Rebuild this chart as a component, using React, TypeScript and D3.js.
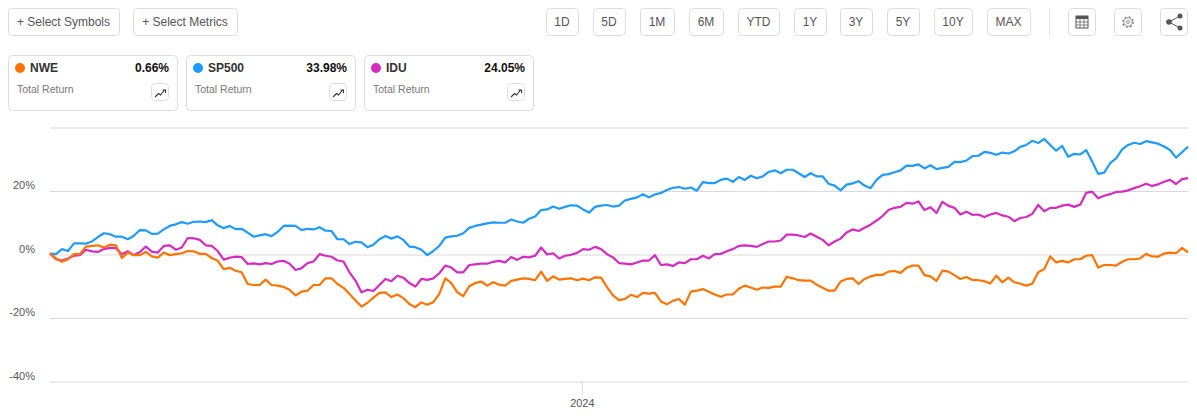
import React, { useEffect, useRef } from "react";
import * as d3 from "d3";

const WIDTH = 1197;
const HEIGHT = 416;
const FONT = "'Liberation Sans', Arial, sans-serif";

// total return in %, one reading per sample
const sp500 = [
  0.3, 0.1, 1.7, 1.1, 3.5, 3.5, 3.4, 4.1, 5.5, 6.7, 6.4, 5.6, 5.6, 4.8, 5.9, 7.7, 7.6, 6.5, 6.6, 7.9,
  9, 9.5, 10.2, 9.7, 10.3, 10.4, 10.2, 10.8, 9.2, 8.3, 9, 8, 8.1, 6.9, 5.6, 6, 6.4, 5.8, 7.1, 9,
  9.1, 9, 7.7, 8.1, 7.9, 8.6, 7.5, 7.4, 4.8, 4.8, 3.3, 4, 3.8, 2.3, 3.1, 4.8, 5.8, 5, 5.7,
  4.6, 2.5, 2.3, 1.5, -0.2, 1.1, 2.7, 5.3, 5.7, 5.9, 6.7, 8.4, 9, 9.4, 9.8, 10.1, 10, 10, 11, 10.4,
  10, 11.25, 12, 14, 14.2, 15.1, 14.4, 15, 15.5, 15.4, 14.2, 13.2, 15, 15.4, 15.6, 15.1, 15.4, 17, 17.5, 18,
  19, 18, 18.9, 19.4, 20.3, 21, 21.25, 20.7, 21.1, 20.1, 22.8, 22.5, 22.5, 23.5, 23.9, 22.9, 24.4, 23.5, 24.8, 24,
  24.6, 26, 26.5, 25.6, 26.7, 26.7, 25.6,
  24.4, 25.6, 24.6, 24.6, 22.3, 21.7, 20.2, 22, 22.4, 23.1, 21.7, 20.9, 23.5, 25.1, 25.3, 25.9, 26.5, 28, 27.9, 28.4,
  27.1, 28.1, 26.9, 27.3, 27.6, 29.2, 29.1, 29.6, 31, 31.1, 32.3, 32, 31.4, 32.1, 31.8, 32.5, 33.9, 34.5, 35.8, 35.1,
  36.4, 34.5, 32.7, 34.2, 30.8, 31.7, 31.5, 32.9, 29.3, 25.4, 25.8, 28.75, 30.3, 33.1, 34.5, 35.2, 34.8, 35.7, 35.3, 34.9,
  34, 32.9, 30.5, 32.2, 33.98,
];
const idu = [
  0.3, -1.5, -1.9, -1.25, -0.4, -0.2, 1.5, 1, 0.8, 1.7, 2.1, 2, 0.1, 1, -0.2, 0.8, 2.5, 0.9, 0.6, 2.7,
  2.9, 1.5, 2.2, 5.2, 5.1, 4.6, 2.9, 2.7, 1.1, -1.6, -1, -0.7, -0.8, -3, -2.8, -3.1, -2.7, -3, -2.2, -2,
  -2.9, -4.9, -4.3, -2.7, -2.2, 0.1, -0.4, -0.7, -1.9, -2.2, -5.6, -8.2, -11.9, -11.1, -11.5, -9.6, -7.7, -8.4, -6.7,
  -7.3, -9, -10.1, -7.7, -8, -7.5, -5.9, -3.5, -4.1, -5.6, -5.6, -3.3, -3.1, -2.9, -2.9, -2.3, -2, -2.5, -0.8, -1.7,
  -0.7, -0.9, -0.4, 2.2, 0, 0.4, -1.25, -0.4, -0.1, 0.5, 1.7, 1.5, 2.4, 1.7, 0.1, -0.9, -2.7, -2.9, -3.1, -2.5,
  -1.9, -1.9, -0.2, -3.3, -3.1, -3.6, -2.5, -2.7, -1.5, -1.5, -0.4, -1.25, 0.1, 0.2, 1, 1.7, 2.7, 2.9, 2.7, 2.4,
  3.3, 4.1, 4.1, 4.4, 6.25, 6.25, 6,
  5.5, 6.6, 5.6, 4.6, 2.9, 4.1, 5, 6.9, 7.9, 7.4, 8.4, 9.4, 10.7, 12.1, 14, 14.7, 15, 16.25, 16, 16.7,
  14, 14.9, 13.1, 16.6, 15.3, 14.7, 12.6, 13.5, 12.5, 12.6, 11.8, 12.6, 13.1, 12.3, 11.9, 10.5, 11.5, 11.8, 12.8, 15.6,
  13.6, 14.7, 14.7, 15.4, 15.7, 15, 15.7, 19.4, 19.8, 17.7, 18.5, 19, 19.7, 19.8, 20.2, 20.9, 21.5, 22.3, 21.6, 22.1,
  22.9, 23.5, 22.2, 23.75, 24.05,
];
const nwe = [
  0.3, -1.25, -2.3, -1.5, 0.1, 0.1, 2.5, 2.7, 2.9, 2.2, 3.1, 2.9, -1.1, 0.6, -0.2, -0.2, 0.8, -0.6, -1, 0.6,
  -0.2, 0.1, 0.4, 1.1, 1, 0.2, 0.2, -1.1, -2, -4.6, -4.2, -5.1, -5.6, -9.3, -9.6, -9.6, -7.9, -9.6, -9.8, -10.2,
  -11.1, -12.9, -11.7, -11.4, -9.6, -9.6, -7.5, -7.5, -9.3, -10.5, -12.4, -14.5, -16.4, -15.2, -13.6, -12.1, -11.9, -13.4, -12.6,
  -13.75, -15.6, -16.6, -15.1, -15.8, -15, -12.4, -7.5, -9, -11.9, -13.1, -10, -9, -8.5, -9.8, -8.75, -9.5, -9.8, -8.3, -7.9,
  -7.5, -7.7, -8.1, -5.4, -8.3, -6.9, -7.9, -7.7, -7.5, -8.1, -7.6, -8.1, -7.2, -7.3, -10.3, -12.9, -14.4, -14, -12.7, -13.4,
  -12.1, -12.3, -12.1, -14.8, -15.7, -14.6, -14, -15.8, -11.7, -11.4, -10.9, -11.7, -12.6, -13.3, -12.6, -12.6, -10.8, -9.8, -10.4, -11.1,
  -10.4, -10.5, -10.1, -10.1, -7, -7.5, -8.1,
  -8.2, -8.2, -9.5, -10.5, -11.4, -11.4, -8.5, -7.7, -7.5, -9.3, -7.7, -6.9, -6.4, -6.4, -5.4, -5.2, -5.8, -4.2, -3.5, -3.5,
  -6.5, -6.9, -8.3, -5.1, -5.4, -6.5, -7.7, -7.1, -8, -8.1, -8.4, -9.1, -6.7, -8.75, -7.3, -8.75, -9.2, -9.8, -9.2, -5.6,
  -4.6, -0.6, -2.5, -2, -2.5, -1.5, -1.5, -0.4, -0.2, -4.1, -3.3, -3.3, -3.5, -2.3, -1.5, -1.5, -1.25, 0.2, -0.6, -0.7,
  0.3, 0.6, 0.4, 2.1, 0.66,
];

const yTicks = [-40, -20, 0, 20, 40];
const yearIndex = 88.8; // sample where 2024 starts
const yearLabel = "2024";

const symbolButtons = ["+ Select Symbols", "+ Select Metrics"];
const rangeButtons = ["1D", "5D", "1M", "6M", "YTD", "1Y", "3Y", "5Y", "10Y", "MAX"];

const cardNames = ["NWE", "SP500", "IDU"];
const cardReturns = ["0.66%", "33.98%", "24.05%"];
const cardColors = ["#ff7300", "#1e9bff", "#d62bc0"];

const margin = { top: 127.5, right: 9, bottom: 34.5, left: 50 };

const Btn: React.FC<{ x: number; y: number; w: number; h: number }> = ({ x, y, w, h }) => (
  <rect x={x + 0.5} y={y + 0.5} width={w} height={h} rx={4} fill="#fff" stroke="#dcdcdc" />
);

const App: React.FC = () => {
  const plotRef = useRef<SVGGElement>(null);

  useEffect(() => {
    if (!plotRef.current) return;
    const g = d3.select(plotRef.current);
    g.selectAll("*").remove();

    const innerW = WIDTH - margin.left - margin.right;
    const innerH = HEIGHT - margin.top - margin.bottom;

    const x = d3.scaleLinear().domain([0, sp500.length - 1]).range([0, innerW]);
    const y = d3.scaleLinear().domain([-40, 40]).range([innerH, 0]);

    const yAxis = g.append("g").call(
      d3.axisLeft(y)
        .tickValues(yTicks)
        .tickSize(-innerW)
        .tickFormat(d => (d === 40 ? "" : `${d}%`))
    );
    yAxis.select(".domain").remove();
    yAxis.selectAll("line").attr("stroke", "#d9d9d9");
    yAxis.selectAll("text")
      .attr("x", -15)
      .attr("dy", "-0.2em")
      .attr("fill", "#555")
      .style("font-family", FONT)
      .style("font-size", "11px");

    const xAxis = g.append("g")
      .attr("transform", `translate(0,${innerH})`)
      .call(
        d3.axisBottom(x)
          .tickValues([yearIndex])
          .tickSize(13)
          .tickPadding(5)
          .tickFormat(() => yearLabel)
      );
    xAxis.select(".domain").remove();
    xAxis.selectAll("line").attr("stroke", "#d9d9d9");
    xAxis.selectAll("text")
      .attr("fill", "#555")
      .style("font-family", FONT)
      .style("font-size", "11px");

    const line = d3.line<number>().x((_, i) => x(i)).y(d => y(d));

    [
      { values: sp500, color: cardColors[1] },
      { values: idu, color: cardColors[2] },
      { values: nwe, color: cardColors[0] },
    ].forEach(s => {
      g.append("path")
        .datum(s.values)
        .attr("fill", "none")
        .attr("stroke", s.color)
        .attr("stroke-width", 2.2)
        .attr("stroke-linejoin", "round")
        .attr("d", line);
    });
  }, []);

  const symbolX = [8, 133];
  const symbolW = [111, 104];
  const rangeX = [546, 593, 640, 689, 738, 794, 840, 887, 934, 987];
  const rangeW = [32, 32, 34, 34, 41, 32, 32, 32, 38, 43];
  const cardX = [8, 186, 364];

  return (
    <svg
      width={WIDTH}
      height={HEIGHT}
      style={{ position: "absolute", left: 0, top: 0, background: "#fff" }}
      fontFamily={FONT}
    >
      {symbolButtons.map((t, i) => (
        <g key={t}>
          <Btn x={symbolX[i]} y={8} w={symbolW[i]} h={27} />
          <text x={symbolX[i] + symbolW[i] / 2} y={26} textAnchor="middle" fontSize={12} fill="#555">
            {t}
          </text>
        </g>
      ))}

      {rangeButtons.map((t, i) => (
        <g key={t}>
          <Btn x={rangeX[i]} y={8} w={rangeW[i]} h={27} />
          <text x={rangeX[i] + rangeW[i] / 2} y={26} textAnchor="middle" fontSize={12} fill="#555">
            {t}
          </text>
        </g>
      ))}

      <line x1={1049.5} x2={1049.5} y1={8} y2={35} stroke="#e2e2e2" />

      {/* table */}
      <Btn x={1068} y={8} w={27} h={27} />
      <rect x={1076} y={16} width={12} height={12} fill="#fff" stroke="#555" />
      <rect x={1076} y={16} width={12} height={3} fill="#555" />
      <path d="M1080 19V28M1084 19V28M1076 22H1088M1076 25H1088" stroke="#555" strokeWidth={0.7} />

      {/* settings */}
      <Btn x={1114} y={8} w={27} h={27} />
      <circle cx={1128} cy={22} r={4.2} fill="none" stroke="#777" strokeWidth={0.8} />
      <circle cx={1128} cy={22} r={5.2} fill="none" stroke="#777" strokeWidth={1.3} strokeDasharray="1.8 2.3" />
      <circle cx={1128} cy={22} r={1.5} fill="none" stroke="#777" strokeWidth={0.8} />

      {/* share */}
      <Btn x={1160} y={8} w={27} h={27} />
      <path d="M1180 16L1169 22L1180 28" fill="none" stroke="#555" />
      <circle cx={1180} cy={16} r={2.5} fill="#555" />
      <circle cx={1169} cy={22} r={2.8} fill="#555" />
      <circle cx={1180} cy={28} r={2.5} fill="#555" />

      {cardNames.map((name, i) => (
        <g key={name}>
          <Btn x={cardX[i]} y={55} w={169} h={55} />
          <circle cx={cardX[i] + 12} cy={68} r={5} fill={cardColors[i]} />
          <text x={cardX[i] + 22} y={72} fontSize={12} fontWeight="bold" fill="#333">
            {name}
          </text>
          <text x={cardX[i] + 161} y={72} textAnchor="end" fontSize={12} fontWeight="bold" fill="#111">
            {cardReturns[i]}
          </text>
          <text x={cardX[i] + 9} y={93} fontSize={10.5} fill="#777">
            Total Return
          </text>
          <rect x={cardX[i] + 143.5} y={83.5} width={17} height={17} rx={4} fill="#fff" stroke="#dcdcdc" />
          <path
            d={`M${cardX[i] + 147} ${97}l3.5 -3.5l2 1.5l4 -5M${cardX[i] + 154.5} ${90}h3v3`}
            fill="none"
            stroke="#333"
            strokeWidth={1.1}
          />
        </g>
      ))}

      <g ref={plotRef} transform={`translate(${margin.left},${margin.top})`} />
    </svg>
  );
};

export default App;
